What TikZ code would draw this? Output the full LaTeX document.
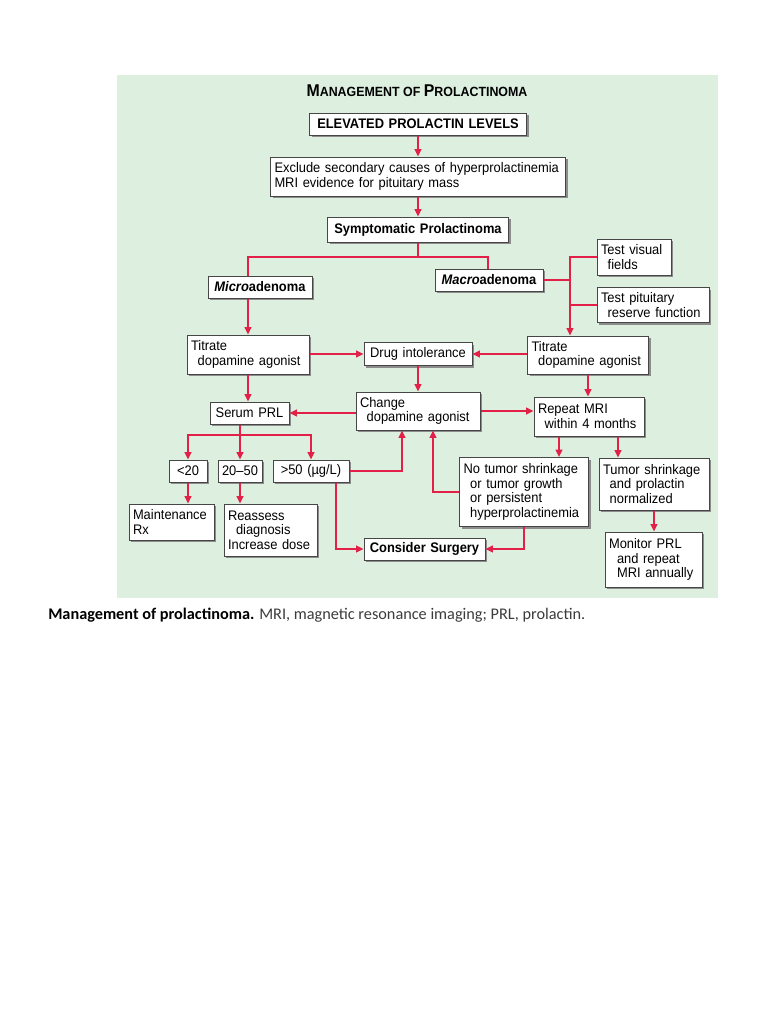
\documentclass[tikz,border=0pt]{standalone}
\usepackage{fontspec}
\setmainfont{Liberation Sans}[FakeStretch=0.93]
\newfontfamily\capfont{Carlito}
\usetikzlibrary{shadows,arrows.meta}
\definecolor{bg}{RGB}{221,240,223}
\definecolor{ared}{RGB}{226,32,72}
\definecolor{bgray}{RGB}{70,70,70}
\definecolor{sgray}{RGB}{140,140,140}
\definecolor{capgray}{RGB}{60,60,60}
\newcommand\bxfont{\fontsize{10.4pt}{11pt}\selectfont}
\newcommand\ind{\hspace*{5pt}}
\begin{document}
\begin{tikzpicture}[x=0.75pt,y=-0.75pt,
 bx/.style={draw=bgray, line width=0.75pt, fill=white,
   drop shadow={shadow xshift=1.8pt, shadow yshift=-1.8pt, fill=sgray, opacity=1},
   font=\bxfont, inner xsep=3pt, inner ysep=1pt, minimum height=16.5pt},
 ln/.style={draw=ared, line width=1.5pt},
 ar/.style={ln, -{Triangle[length=5.5pt,width=5pt]}},
]
\useasboundingbox (0,0) rectangle (768,1024);
\fill[white] (0,0) rectangle (768,1024);
\fill[bg] (117,75) rectangle (718,598);

% title
\node[anchor=base, inner sep=0, font=\bfseries] (title) at (417,97)
 {\fontsize{12.8pt}{14pt}\selectfont M\fontsize{10pt}{11pt}\selectfont ANAGEMENT OF \fontsize{12.8pt}{14pt}\selectfont P\fontsize{10pt}{11pt}\selectfont ROLACTINOMA};

% boxes
\node[bx, text width=156.75pt, align=center, font=\bxfont\bfseries] (elev) at (418,124) {ELEVATED PROLACTIN LEVELS};
\node[bx, text width=215.25pt, minimum height=29.25pt, align=left] (excl) at (418,176.5) {Exclude secondary causes of hyperprolactinemia\\MRI evidence for pituitary mass};
\node[bx, text width=129.75pt, minimum height=18.75pt, align=center, font=\bxfont\bfseries] (symp) at (418,229.5) {Symptomatic Prolactinoma};
\node[bx, text width=72pt, align=center, font=\bxfont\bfseries] (micro) at (260,287) {\textit{Micro}adenoma};
\node[bx, text width=75pt, align=center, font=\bxfont\bfseries] (macro) at (489,280) {\textit{Macro}adenoma};
\node[bx, text width=49.5pt, minimum height=27pt, align=left] (tvf) at (634,257) {Test visual\\\ind fields};
\node[bx, text width=78pt, minimum height=26.25pt, align=left] (tpr) at (653,305) {Test pituitary\\\ind reserve function};
\node[bx, text width=84.75pt, minimum height=28.5pt, align=left] (titR) at (588,355) {Titrate\\\ind dopamine agonist};
\node[bx, text width=75pt, minimum height=17.25pt, align=center] (drug) at (418,354) {Drug intolerance};
\node[bx, text width=85.5pt, minimum height=29.25pt, align=left] (titL) at (248,354.5) {Titrate\\\ind dopamine agonist};
\node[bx, text width=87pt, minimum height=28.5pt, align=left] (change) at (418,411) {Change\\\ind dopamine agonist};
\node[bx, text width=53.25pt, align=center] (serum) at (249.5,413) {Serum PRL};
\node[bx, text width=76.5pt, minimum height=29.25pt, align=left] (mri) at (589,416.5) {Repeat MRI\\\ind within 4 months};
\node[bx, text width=22.5pt, align=center] (lt20) at (188,471) {<20};
\node[bx, inner xsep=2pt, text width=29pt, align=center] (mid) at (240,471) {20--50};
\node[bx, text width=51pt, align=center] (gt50) at (311,471) {>50 (µg/L)};
\node[bx, text width=57.75pt, minimum height=27pt, align=left] (maint) at (171.5,522) {Maintenance\\Rx};
\node[bx, text width=63.75pt, minimum height=39pt, align=left] (reass) at (270.5,530) {Reassess\\\hspace*{6pt}diagnosis\\Increase dose};
\node[bx, text width=84.75pt, align=center, font=\bxfont\bfseries] (surg) at (424.5,549) {Consider Surgery};
\node[bx, text width=90.75pt, minimum height=51.75pt, align=left] (notum) at (524,492) {No tumor shrinkage\\\ind or tumor growth\\\ind or persistent\\\ind hyperprolactinemia};
\node[bx, text width=76.5pt, minimum height=39pt, align=left] (tumsh) at (654,484) {Tumor shrinkage\\\ind and prolactin\\\ind normalized};
\node[bx, text width=66.75pt, minimum height=41.25pt, align=left] (monit) at (653.5,559.5) {Monitor PRL\\\hspace*{6pt}and repeat\\\hspace*{6pt}MRI annually};

% connectors
\coordinate (bl) at (248,257);
\coordinate (br) at (488,257);
\coordinate (vx) at (570,257);
\draw[ar] (elev.south) -- (excl.north);
\draw[ar] (excl.south) -- (symp.north);
\draw[ln] (symp.south) -- (symp.south |- bl);
\draw[ln] (bl |- micro.north) -- (bl) -- (br) -- (br |- macro.north);
\draw[ln] (macro.east) -- (macro.east -| vx);
\draw[ln] (tpr.west) -- (tpr.west -| vx);
\draw[ar] (tvf.west) -| (vx |- titR.north);
\draw[ar] (bl |- micro.south) -- (bl |- titL.north);
\draw[ar] (titL.east |- drug.west) -- (drug.west);
\draw[ar] (titR.west |- drug.east) -- (drug.east);
\draw[ar] (drug.south) -- (drug.south |- change.north);
\draw[ar] (change.west |- serum.east) -- (serum.east);
\draw[ar] (change.east) -- (change.east -| mri.west);
\draw[ar] (titL.south) -- (titL.south |- serum.north);
\draw[ar] (titR.south) -- (titR.south |- mri.north);
\coordinate (sb) at (240,435);
\draw[ln] (sb |- serum.south) -- (sb);
\draw[ar] (sb) -- (sb |- mid.north);
\draw[ar] (sb) -| (lt20.north);
\draw[ar] (sb) -| (gt50.north);
\draw[ar] (lt20.south) -- (lt20.south |- maint.north);
\draw[ar] (mid.south) -- (mid.south |- reass.north);
\coordinate (c1) at (402,470);
\coordinate (c2) at (433,492);
\draw[ar] (gt50.east) -| (c1 |- change.south);
\draw[ar] (notum.west) -| (c2 |- change.south);
\coordinate (sx) at (336,549);
\draw[ar] (sx |- gt50.south) |- (surg.west);
\draw[ar] (notum.south) |- (surg.east);
\coordinate (m1) at (559,440);
\coordinate (m2) at (618,440);
\draw[ar] (m1 |- mri.south) -- (m1 |- notum.north);
\draw[ar] (m2 |- mri.south) -- (m2 |- tumsh.north);
\draw[ar] (tumsh.south) -- (tumsh.south |- monit.north);

% caption
\node[anchor=base west, inner sep=0, font=\capfont\fontsize{12.2pt}{14pt}\selectfont] (cap) at (48,619)
 {\textbf{Management of prolactinoma.} \textcolor{capgray}{MRI, magnetic resonance imaging; PRL, prolactin.}};
\end{tikzpicture}
\end{document}
